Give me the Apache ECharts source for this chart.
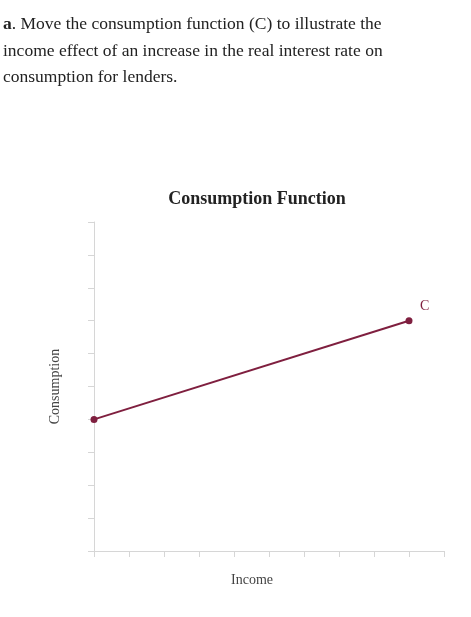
<!DOCTYPE html>
<html>
<head>
    <meta charset="utf-8">
    <script src="https://cdn.jsdelivr.net/npm/echarts@6/dist/echarts.min.js"></script>
    <style>
        body { margin: 0; background: #fff; }
        #q { position: absolute; left: 3px; top: 10px; width: 468px; font-family: "Liberation Serif", serif; font-size: 17.5px; line-height: 26.5px; color: #222; white-space: nowrap; }
    </style>
</head>
<body>
    <div id = "main" style = "width: 471px; height: 617px"></div>
    <div id = "q"><b>a</b>. Move the consumption function (C) to illustrate the<br>income effect of an increase in the real interest rate on<br>consumption for lenders.</div>
    <script type = "text/javascript">
        var xMin = 0, xMax = 10;
        var yMin = 0, yMax = 10;
        var consumption = [[0, 4], [9, 7]];
        var lineLabel = 'C';

        var myChart = echarts.init(document.getElementById('main'));
        var axisStyle = {
            type: 'value',
            interval: 1,
            axisLine: { show: true, lineStyle: { color: '#d6d6d6' } },
            axisTick: { show: true, length: 6, lineStyle: { color: '#d6d6d6' } },
            axisLabel: { show: false },
            splitLine: { show: false },
            nameLocation: 'middle',
            nameTextStyle: { fontFamily: 'Liberation Serif', fontSize: 14, color: '#444' }
        };
        var option = {
            animation: false,
            title: {
                text: 'Consumption Function',
                left: 252,
                textAlign: 'center',
                top: 185,
                textStyle: { fontFamily: 'Liberation Serif', fontSize: 18, fontWeight: 'bold', color: '#222' }
            },
            grid: { left: 94, right: 27, top: 222, bottom: 66 },
            xAxis: Object.assign({}, axisStyle, { min: xMin, max: xMax, name: 'Income', nameGap: 22,
                nameTextStyle: { fontFamily: 'Liberation Serif', fontSize: 14, color: '#444', padding: [0, 34, 0, 0] } }),
            yAxis: Object.assign({}, axisStyle, { min: yMin, max: yMax, name: 'Consumption', nameGap: 32 }),
            series: [{
                type: 'line',
                data: consumption,
                symbol: 'circle',
                symbolSize: 7,
                itemStyle: { color: '#7f1f3f' },
                lineStyle: { color: '#7f1f3f', width: 2 },
                endLabel: {
                    show: true,
                    formatter: lineLabel,
                    offset: [3, -14],
                    fontFamily: 'Liberation Serif',
                    fontSize: 14,
                    color: '#7f1f3f'
                }
            }]
        };
        myChart.setOption(option);
    </script>
</body>
</html>
